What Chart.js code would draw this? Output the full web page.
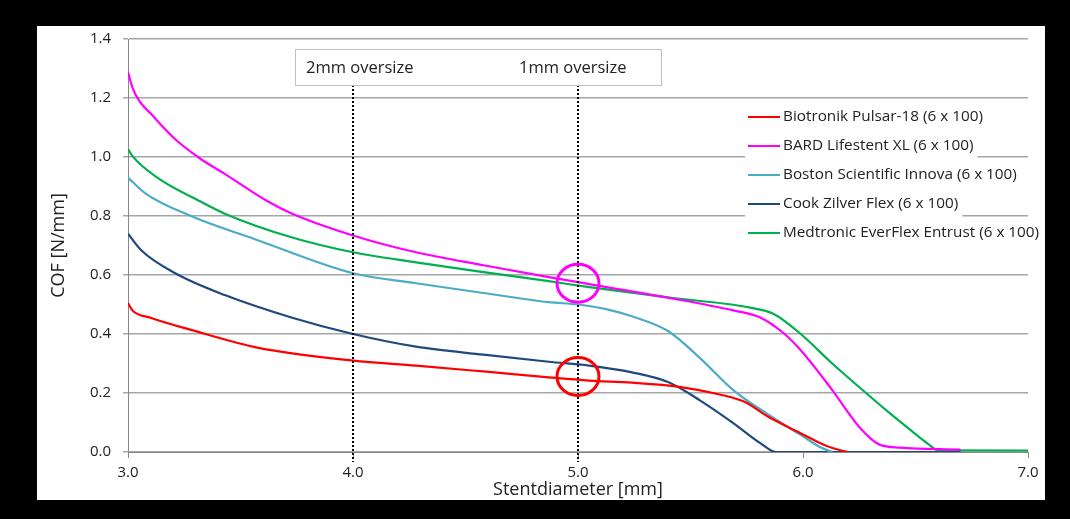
<!DOCTYPE html>
<html>
<head>
<meta charset="utf-8">
<script src="https://cdn.jsdelivr.net/npm/chart.js@4/dist/chart.umd.min.js"></script>
<style>
  body { margin: 0; background: #000; }
  canvas { display: block; }
</style>
</head>
<body>
<canvas id="cof-chart" width="1070" height="519"></canvas>
<script>
// Series names and colours
const seriesNames = [
    'Biotronik Pulsar-18 (6 x 100)',
    'BARD Lifestent XL (6 x 100)',
    'Boston Scientific Innova (6 x 100)',
    'Cook Zilver Flex (6 x 100)',
    'Medtronic EverFlex Entrust (6 x 100)'
];
const seriesColors = ['#ff0000', '#ff00ff', '#4bacc6', '#1f497d', '#00b050'];

// Biotronik
const biotronikX = [3.0, 3.02, 3.1, 3.28, 3.58, 4.0, 4.28, 4.58, 4.87, 5.05, 5.24, 5.45, 5.63, 5.74, 5.84, 5.94, 6.02, 6.1, 6.18, 6.2];
const biotronikY = [0.505, 0.48, 0.455, 0.414, 0.353, 0.31, 0.293, 0.273, 0.253, 0.242, 0.235, 0.221, 0.195, 0.17, 0.122, 0.082, 0.052, 0.022, 0.003, 0.0];
// BARD
const bardX = [3.0, 3.02, 3.05, 3.1, 3.21, 3.32, 3.43, 3.62, 3.73, 4.0, 4.28, 4.58, 4.87, 5.05, 5.4, 5.69, 5.81, 5.91, 5.99, 6.13, 6.25, 6.34, 6.43, 6.7];
const bardY = [1.288, 1.235, 1.19, 1.148, 1.06, 0.995, 0.943, 0.85, 0.808, 0.734, 0.677, 0.633, 0.593, 0.569, 0.523, 0.48, 0.456, 0.405, 0.345, 0.21, 0.085, 0.025, 0.015, 0.008];
// Boston Scientific
const bostonX = [3.0, 3.08, 3.28, 3.58, 4.0, 4.28, 4.58, 4.87, 5.0, 5.12, 5.24, 5.4, 5.54, 5.69, 5.84, 5.99, 6.08, 6.13];
const bostonY = [0.93, 0.875, 0.80, 0.717, 0.606, 0.572, 0.539, 0.508, 0.50, 0.485, 0.46, 0.41, 0.32, 0.21, 0.13, 0.058, 0.015, 0.0];
// Cook
const cookX = [3.0, 3.06, 3.21, 3.43, 3.73, 4.0, 4.28, 4.58, 4.87, 5.05, 5.24, 5.4, 5.54, 5.69, 5.81, 5.88, 6.7];
const cookY = [0.74, 0.683, 0.606, 0.532, 0.455, 0.40, 0.357, 0.33, 0.306, 0.293, 0.27, 0.237, 0.176, 0.098, 0.03, 0.0, 0.0];
// Medtronic
const medtronicX = [3.0, 3.02, 3.13, 3.32, 3.43, 3.73, 4.0, 4.28, 4.58, 4.87, 5.05, 5.4, 5.76, 5.87, 5.99, 6.13, 6.28, 6.38, 6.48, 6.56, 6.6, 7.0];
const medtronicY = [1.027, 1.003, 0.93, 0.85, 0.808, 0.727, 0.677, 0.643, 0.61, 0.579, 0.559, 0.524, 0.49, 0.468, 0.40, 0.30, 0.20, 0.135, 0.073, 0.025, 0.006, 0.005];

// Axis ticks
const xTicks = [3.0, 4.0, 5.0, 6.0, 7.0];
const yTicks = [0.0, 0.2, 0.4, 0.6, 0.8, 1.0, 1.2, 1.4];

// Oversize markers
const oversizeX = [4.0, 5.0];
const oversizeLabels = ['2mm oversize', '1mm oversize'];
// Highlight circles (x, y)
const circleX = [5.0, 5.0];
const circleY = [0.572, 0.256];
const circleColors = ['#ff00ff', '#ff0000'];

const FONT = '"Open Sans", "DejaVu Sans", sans-serif';

function toPoints(xs, ys) {
    return xs.map((x, i) => ({ x: x, y: ys[i] }));
}

const allX = [biotronikX, bardX, bostonX, cookX, medtronicX];
const allY = [biotronikY, bardY, bostonY, cookY, medtronicY];

const datasets = seriesNames.map((name, i) => ({
    label: name,
    data: toPoints(allX[i], allY[i]),
    borderColor: seriesColors[i],
    backgroundColor: seriesColors[i],
    borderWidth: 2.2,
    pointRadius: 0,
    cubicInterpolationMode: 'monotone',
    fill: false
}));

// White panel behind the chart
const panelPlugin = {
    id: 'panel',
    beforeDraw(chart) {
        const ctx = chart.ctx;
        ctx.save();
        ctx.fillStyle = '#000';
        ctx.fillRect(0, 0, chart.width, chart.height);
        ctx.fillStyle = '#fff';
        ctx.fillRect(37, 26, 1008, 474);
        ctx.restore();
    }
};

// Dotted lines, oversize box, circles, legend
const overlayPlugin = {
    id: 'overlay',
    afterDatasetsDraw(chart) {
        const ctx = chart.ctx;
        const xs = chart.scales.x;
        const ys = chart.scales.y;
        ctx.save();

        // dotted verticals
        ctx.strokeStyle = '#000';
        ctx.lineWidth = 2;
        ctx.setLineDash([2, 2]);
        oversizeX.forEach(v => {
            const px = Math.round(xs.getPixelForValue(v));
            ctx.beginPath();
            ctx.moveTo(px, 85);
            ctx.lineTo(px, ys.bottom + 10);
            ctx.stroke();
        });
        ctx.setLineDash([]);

        // oversize box
        ctx.fillStyle = '#fff';
        ctx.fillRect(295, 49, 366, 36);
        ctx.strokeStyle = '#c0c0c0';
        ctx.lineWidth = 1;
        ctx.strokeRect(295.5, 49.5, 366, 36);
        ctx.fillStyle = '#222';
        ctx.font = '16.5px ' + FONT;
        ctx.textBaseline = 'middle';
        ctx.textAlign = 'left';
        ctx.fillText(oversizeLabels[0], 306, 68);
        ctx.fillText(oversizeLabels[1], 519, 68);

        // circles
        ctx.lineWidth = 3;
        circleX.forEach((v, i) => {
            ctx.strokeStyle = circleColors[i];
            ctx.beginPath();
            ctx.ellipse(xs.getPixelForValue(v), ys.getPixelForValue(circleY[i]), 21, 19, 0, 0, Math.PI * 2);
            ctx.stroke();
        });

        // legend
        ctx.font = '15.3px ' + FONT;
        chart.data.datasets.forEach((ds, i) => {
            const cy = 117 + i * 29;
            const w = ctx.measureText(ds.label).width;
            ctx.fillStyle = '#fff';
            ctx.fillRect(745, cy - 14, Math.min(783 - 745 + w + 4, 1045 - 745), 29);
            ctx.strokeStyle = ds.borderColor;
            ctx.lineWidth = 2;
            ctx.beginPath();
            ctx.moveTo(748, cy);
            ctx.lineTo(780, cy);
            ctx.stroke();
            ctx.fillStyle = '#222';
            ctx.fillText(ds.label, 783, cy);
        });

        ctx.restore();
    }
};

const ctx = document.getElementById('cof-chart').getContext('2d');
new Chart(ctx, {
    type: 'line',
    data: { datasets: datasets },
    plugins: [panelPlugin, overlayPlugin],
    options: {
        responsive: false,
        devicePixelRatio: 1,
        animation: false,
        layout: { padding: { left: 37, top: 39, right: 42, bottom: 19 } },
        plugins: {
            legend: { display: false },
            tooltip: { enabled: false }
        },
        scales: {
            x: {
                type: 'linear',
                min: 3,
                max: 7,
                afterBuildTicks(scale) { scale.ticks = xTicks.map(v => ({ value: v })); },
                afterFit(scale) { scale.height = 48; },
                grid: { drawOnChartArea: false, drawTicks: true, tickLength: 6, color: '#888' },
                border: { color: '#888' },
                ticks: {
                    padding: 6,
                    color: '#222',
                    font: { family: FONT, size: 15 },
                    callback: v => Number(v).toFixed(1)
                },
                title: {
                    display: true,
                    text: 'Stentdiameter [mm]',
                    color: '#222',
                    font: { family: FONT, size: 18 },
                    padding: { top: 0, bottom: -1 }
                }
            },
            y: {
                min: 0,
                max: 1.4,
                afterBuildTicks(scale) { scale.ticks = yTicks.map(v => ({ value: v })); },
                afterFit(scale) { scale.width = 91; },
                grid: { color: '#a6a6a6', tickLength: 5, lineWidth: 1.5 },
                border: { color: '#888' },
                ticks: {
                    padding: 12,
                    color: '#222',
                    font: { family: FONT, size: 15 },
                    callback: v => Number(v).toFixed(1)
                },
                title: {
                    display: true,
                    text: 'COF [N/mm]',
                    color: '#222',
                    font: { family: FONT, size: 18 },
                    padding: { top: 11, bottom: 0 }
                }
            }
        }
    }
});
</script>
</body>
</html>
